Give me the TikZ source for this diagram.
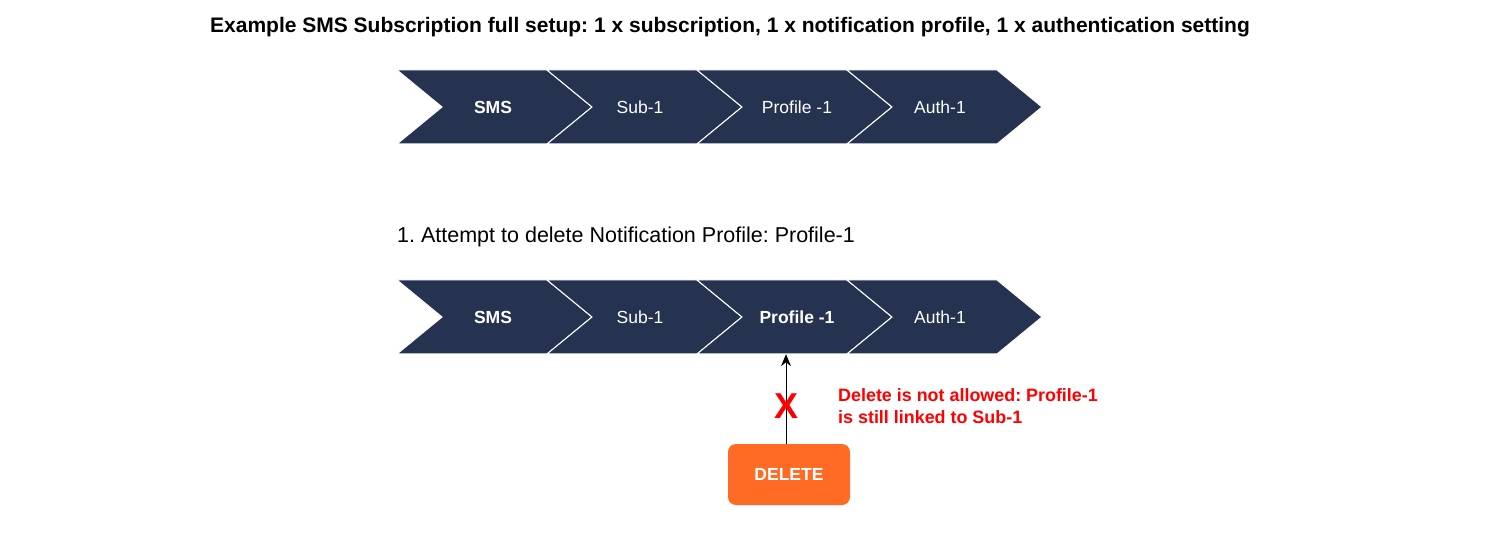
\documentclass[tikz,border=0pt]{standalone}
\usepackage{fontspec}
\setmainfont{Liberation Sans}
\usetikzlibrary{arrows.meta,positioning}

\definecolor{navy}{HTML}{253350}
\definecolor{delorange}{HTML}{FF6A25}

\frenchspacing

\tikzset{
  chev/.style={fill=navy, draw=white, line width=1pt},
  lbl/.style={text=white, font=\fontsize{17.5}{20}\selectfont, minimum height=74pt, inner sep=0pt},
  delbox/.style={fill=delorange, rounded corners=8pt, minimum width=122pt, minimum height=61pt,
    text=white, font=\bfseries\fontsize{17.5}{20}\selectfont, inner sep=0pt},
}

\begin{document}
\begin{tikzpicture}[x=1pt, y=-1pt]
    \useasboundingbox (0,0) rectangle (1508,537);

    % chevrons, both rows
    \foreach \t in {70,280} {
      \foreach \x in {397,547,697,847} {
        \path[chev] (\x,\t) -- ++(150,0) -- ++(45,37) -- ++(-45,37) -- ++(-150,0) -- ++(45,-37) -- cycle;
      }
    }

    \node[font=\bfseries\fontsize{21}{24}\selectfont] at (730,27) (title) {Example SMS Subscription full setup: 1 x subscription, 1 x notification profile, 1 x authentication setting};

    \node[lbl, font=\bfseries\fontsize{17.5}{20}\selectfont] at (493,107) (s1) {SMS};
    \node[lbl] at (640,107) (s2) {Sub-1};
    \node[lbl] at (797,107) (s3) {Profile -1};
    \node[lbl] at (940,107) (s4) {Auth-1};

    \node[anchor=west, font=\fontsize{21.5}{24}\selectfont, inner sep=0pt] at (397,237) (step) {1. Attempt to delete Notification Profile: Profile-1};

    \node[lbl, font=\bfseries\fontsize{17.5}{20}\selectfont] at (493,317) (d1) {SMS};
    \node[lbl] at (640,317) (d2) {Sub-1};
    \node[lbl, font=\bfseries\fontsize{17.5}{20}\selectfont] at (797,317) (d3) {Profile -1};
    \node[lbl] at (940,317) (d4) {Auth-1};

    \node[delbox] at (789,474.5) (del) {DELETE};
    \coordinate (tail) at (786,444);
    \draw[line width=1pt, -{Stealth[length=12pt, width=10pt]}] (tail) -- (tail |- d3.south);

    \node[text=red, font=\bfseries\fontsize{36}{40}\selectfont, inner sep=0pt] at (786,406) (nox) {X};
    \node[anchor=west, align=left, text=red, font=\bfseries\fontsize{17.9}{22}\selectfont, inner sep=0pt] at (838,406) (msg) {Delete is not allowed: Profile-1\\is still linked to Sub-1};
\end{tikzpicture}
\end{document}
